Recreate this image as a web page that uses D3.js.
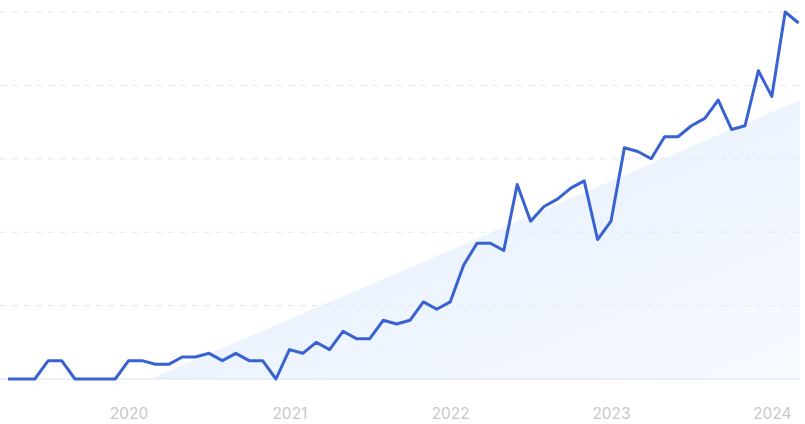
<!DOCTYPE html>
<html>
<head>
<meta charset="utf-8">
<script src="https://cdn.jsdelivr.net/npm/d3@7"></script>
<style>
  body { margin: 0; background: #fff; }
  svg { display: block; font-family: Inter, "Noto Sans", sans-serif; }
</style>
</head>
<body>
<div id="chart"></div>
<script>
const svgWidth = 805, svgHeight = 424;

// monthly values, Apr 2019 .. Mar 2024
const months = d3.range(60);
const values = [0, 0, 0, 5, 5, 0, 0, 0, 0, 5,
  5, 4, 4, 6, 6, 7, 5, 7, 5, 5,
  0, 8, 7, 10, 8, 13, 11, 11, 16, 15,
  16, 21, 19, 21, 31, 37, 37, 35, 53, 43,
  47, 49, 52, 54, 38, 43, 63, 62, 60, 66,
  66, 69, 71, 76, 68, 69, 84, 77, 100, 97];

const yearTicks = [9, 21, 33, 45, 57];
const yearLabels = ["2020", "2021", "2022", "2023", "2024"];
const gridValues = [20, 40, 60, 80, 100];

// trend band: start/end month index and value
const trendIndex = [10.6, 59.1];
const trendValue = [0, 76];

const x = d3.scaleLinear().domain([0, 59]).range([8, 798.6]);
const y = d3.scaleLinear().domain([0, 100]).range([379, 12]);

const svg = d3.select("#chart")
  .append("svg")
  .attr("width", svgWidth)
  .attr("height", svgHeight);

const defs = svg.append("defs");
const grad = defs.append("linearGradient")
  .attr("id", "trendFill")
  .attr("x1", "0").attr("y1", "0")
  .attr("x2", "1").attr("y2", "1");
grad.append("stop").attr("offset", "0%").attr("stop-color", "#e2edfc");
grad.append("stop").attr("offset", "100%").attr("stop-color", "#f7faff");

// trend area
const trendPts = [
  [x(trendIndex[0]), y(trendValue[0])],
  [x(trendIndex[1]), y(trendValue[1])],
  [x(trendIndex[1]), y(0)]
];
svg.append("path")
  .attr("d", d3.line()(trendPts) + "Z")
  .attr("fill", "url(#trendFill)");

// gridlines
svg.append("g")
  .selectAll("line")
  .data(gridValues)
  .join("line")
  .attr("x1", 0)
  .attr("x2", 800)
  .attr("y1", d => y(d))
  .attr("y2", d => y(d))
  .attr("stroke", "#e3e7ed")
  .attr("stroke-width", 1)
  .attr("stroke-dasharray", "6,6");

// baseline
svg.append("line")
  .attr("x1", 0).attr("x2", 800)
  .attr("y1", y(0)).attr("y2", y(0))
  .attr("stroke", "#d8e3f4")
  .attr("stroke-width", 1);

// x axis labels
const xAxis = d3.axisBottom(x)
  .tickValues(yearTicks)
  .tickFormat((d, i) => yearLabels[i])
  .tickSize(0)
  .tickPadding(0);

const axisG = svg.append("g")
  .attr("transform", `translate(0, 408)`)
  .call(xAxis);
axisG.select(".domain").remove();
axisG.selectAll("text")
  .attr("font-size", 15.5)
  .attr("font-family", "Inter, 'Noto Sans', sans-serif")
  .attr("fill", "#c8c8c8");

// line
svg.append("path")
  .datum(values)
  .attr("fill", "none")
  .attr("stroke", "#3862d2")
  .attr("stroke-width", 3)
  .attr("stroke-linejoin", "round")
  .attr("d", d3.line()
    .x((d, i) => x(months[i]))
    .y(d => y(d)));
</script>
</body>
</html>
